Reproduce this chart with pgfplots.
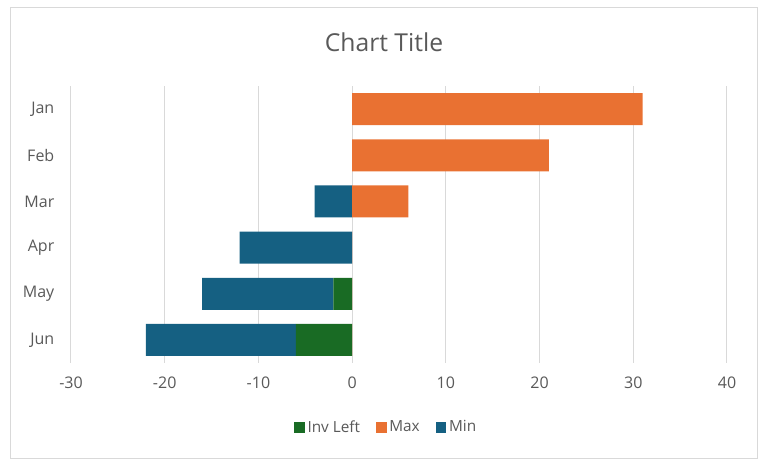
\documentclass[border=0pt]{standalone}
\usepackage{pgfplots}
\pgfplotsset{compat=1.18}
\usepackage{fontspec}
\setmainfont{Open Sans}
\definecolor{invleft}{HTML}{196B24}
\definecolor{maxc}{HTML}{E97132}
\definecolor{minc}{HTML}{156082}
\definecolor{txt}{HTML}{595959}
\definecolor{gridc}{HTML}{D9D9D9}
\pgfplotsset{
  base/.style={
    width=492pt, height=207.75pt, scale only axis,
    at={(53.25pt,76.5pt)}, anchor=south west,
    xmin=-30, xmax=40, ymin=-0.5, ymax=5.5, y dir=reverse,
    bar width=24pt,
  },
}
\begin{document}
\begin{tikzpicture}
\path (0,0) rectangle (576pt,348.75pt);
\draw[gridc, line width=0.75pt] (7.5pt,5.25pt) rectangle (567.75pt,342.75pt);
\node[text=txt, font=\fontsize{18.5}{22}\selectfont] at (288pt,317.25pt) {Chart Title};
% negative side: Inv Left then Min stacked
\begin{axis}[base, xbar stacked,
    axis line style={draw=none}, tick style={draw=none},
    xtick={-30,-20,...,40}, ytick={0,...,5},
    yticklabels={Jan,Feb,Mar,Apr,May,Jun},
    xmajorgrids, grid style={gridc, line width=0.75pt},
    tick label style={font=\fontsize{12}{14}\selectfont, text=txt},
    /pgf/number format/assume math mode=true,
    xticklabel style={yshift=-7pt},
    yticklabel style={xshift=-9pt},
    legend style={at={(0.481,-0.232)}, anchor=center, draw=none,
      legend columns=3, font=\fontsize{11.5}{14}\selectfont, text=txt,
      /tikz/every even column/.append style={column sep=10pt}},
    legend image code/.code={\fill (0pt,-4pt) rectangle (8pt,4pt);},
  ]
\addplot[fill=invleft, draw=none] coordinates {(0,0) (0,1) (0,2) (0,3) (-2,4) (-6,5)};
\addlegendentry{Inv Left}
\addlegendimage{fill=maxc, draw=none}
\addlegendentry{Max}
\addplot[fill=minc, draw=none] coordinates {(0,0) (0,1) (-4,2) (-12,3) (-14,4) (-16,5)};
\addlegendentry{Min}
\end{axis}
% positive side: Max
\begin{axis}[base, xbar, hide axis]
\addplot[fill=maxc, draw=none] coordinates {(31,0) (21,1) (6,2) (0,3) (0,4) (0,5)};
\end{axis}
\end{tikzpicture}
\end{document}
